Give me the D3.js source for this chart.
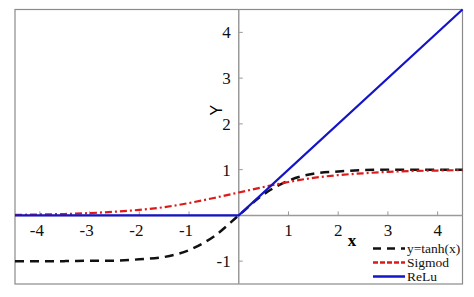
<!DOCTYPE html>
<html lang="en">
<head>
    <meta charset="UTF-8">
    <title>Activation functions</title>
    <style>
        body { margin: 0; background: #fff; }
        svg { display: block; }
        .tick-label { font-family: "Liberation Serif", "Times New Roman", serif; font-size: 17px; fill: #111; }
        .legend text { font-family: "Liberation Serif", "Times New Roman", serif; font-size: 13.5px; fill: #111; }
    </style>
</head>
<body>
    <svg width="474" height="297"></svg>
    <script src="https://d3js.org/d3.v7.min.js"></script>
    <script>
        // values
        const xs = [-4.5, -4, -3.5, -3, -2.5, -2, -1.5, -1, -0.5, 0, 0.5, 1, 1.5, 2, 2.5, 3, 3.5, 4, 4.5];
        const tanhVals = [-1.0, -1.0, -1.0, -0.99, -0.99, -0.96, -0.91, -0.76, -0.46, 0, 0.46, 0.76, 0.91, 0.96, 0.99, 1.0, 1.0, 1.0, 1.0];
        const sigmoidVals = [0.01, 0.02, 0.03, 0.05, 0.08, 0.12, 0.18, 0.27, 0.38, 0.5, 0.62, 0.73, 0.82, 0.88, 0.92, 0.95, 0.97, 0.98, 0.99];
        const reluXs = [-4.5, 0, 4.5];
        const reluVals = [0, 0, 4.5];
        const xTicks = [-4, -3, -2, -1, 1, 2, 3, 4];
        const yTicks = [-1, 1, 2, 3, 4];
        const legendNames = ["y=tanh(x)", "Sigmod", "ReLu"];

        const svg = d3.select("svg");
        const box = { left: 15, right: 462.5, top: 9.5, bottom: 284 };

        const x = d3.scaleLinear().domain([-4.5, 4.5]).range([box.left, box.right]);
        const y = d3.scaleLinear().domain([-1.5, 4.5]).range([box.bottom, box.top]);

        // frame
        svg.append("rect")
            .attr("x", box.left).attr("y", box.top)
            .attr("width", box.right - box.left).attr("height", box.bottom - box.top)
            .style("fill", "none").style("stroke", "#8a8a8a").style("stroke-width", 1.2);

        // axes through zero
        svg.append("line")
            .attr("x1", box.left).attr("x2", box.right)
            .attr("y1", y(0)).attr("y2", y(0))
            .style("stroke", "#9a9a9a").style("stroke-width", 1.5);
        svg.append("line")
            .attr("x1", x(0)).attr("x2", x(0))
            .attr("y1", box.top).attr("y2", box.bottom)
            .style("stroke", "#9a9a9a").style("stroke-width", 1.5);

        // tick marks + labels
        svg.selectAll(".xtick").data(xTicks).enter().append("line")
            .attr("x1", d => x(d)).attr("x2", d => x(d))
            .attr("y1", y(0)).attr("y2", y(0) - 4)
            .style("stroke", "#9a9a9a");
        svg.selectAll(".xlab").data(xTicks).enter().append("text")
            .attr("class", "tick-label")
            .attr("x", d => x(d) + (d < 0 ? -3 : 0)).attr("y", y(0) + 21)
            .attr("text-anchor", "middle")
            .text(d => d);

        svg.selectAll(".ytick").data(yTicks).enter().append("line")
            .attr("x1", x(0)).attr("x2", x(0) + 4)
            .attr("y1", d => y(d)).attr("y2", d => y(d))
            .style("stroke", "#9a9a9a");
        svg.selectAll(".ylab").data(yTicks).enter().append("text")
            .attr("class", "tick-label")
            .attr("x", x(0) - 8).attr("y", d => y(d) + 6)
            .attr("text-anchor", "end")
            .text(d => d);

        // axis titles
        svg.append("text")
            .attr("transform", `translate(${x(0) - 17},${y(2.3)}) rotate(-90)`)
            .attr("text-anchor", "middle")
            .style("font-family", "'Liberation Sans', Arial, sans-serif")
            .style("font-size", "16px")
            .text("Y");
        svg.append("text")
            .attr("x", x(2.28)).attr("y", y(0) + 31)
            .attr("text-anchor", "middle")
            .style("font-family", "'Liberation Serif', 'Times New Roman', serif")
            .style("font-size", "17px")
            .style("font-weight", "bold")
            .text("x");

        // curves
        const smooth = d3.line()
            .x(d => x(d[0]))
            .y(d => y(d[1]))
            .curve(d3.curveMonotoneX);
        const straight = d3.line()
            .x(d => x(d[0]))
            .y(d => y(d[1]));

        const series = [
            { pts: d3.zip(xs, tanhVals), color: "#111", dash: "9,6", width: 2.5, gen: smooth },
            { pts: d3.zip(xs, sigmoidVals), color: "#dd1a1a", dash: "7,3,2,3", width: 2.2, gen: smooth },
            { pts: d3.zip(reluXs, reluVals), color: "#1414c8", dash: null, width: 2.2, gen: straight }
        ];

        svg.selectAll(".curve").data(series).enter().append("path")
            .attr("d", d => d.gen(d.pts))
            .style("fill", "none")
            .style("stroke", d => d.color)
            .style("stroke-width", d => d.width)
            .style("stroke-dasharray", d => d.dash);

        // legend
        const legend = svg.append("g").attr("class", "legend");
        const rows = legend.selectAll("g").data(series).enter().append("g")
            .attr("transform", (d, i) => `translate(373,${248.5 + i * 14})`);
        rows.append("line")
            .attr("x1", 0).attr("x2", 32)
            .style("stroke", d => d.color)
            .style("stroke-width", 2.5)
            .style("stroke-dasharray", (d, i) => i === 0 ? "8,6" : i === 1 ? "5,2" : null);
        rows.append("text")
            .attr("x", 34).attr("y", 4.5)
            .text((d, i) => legendNames[i]);
    </script>
</body>
</html>
